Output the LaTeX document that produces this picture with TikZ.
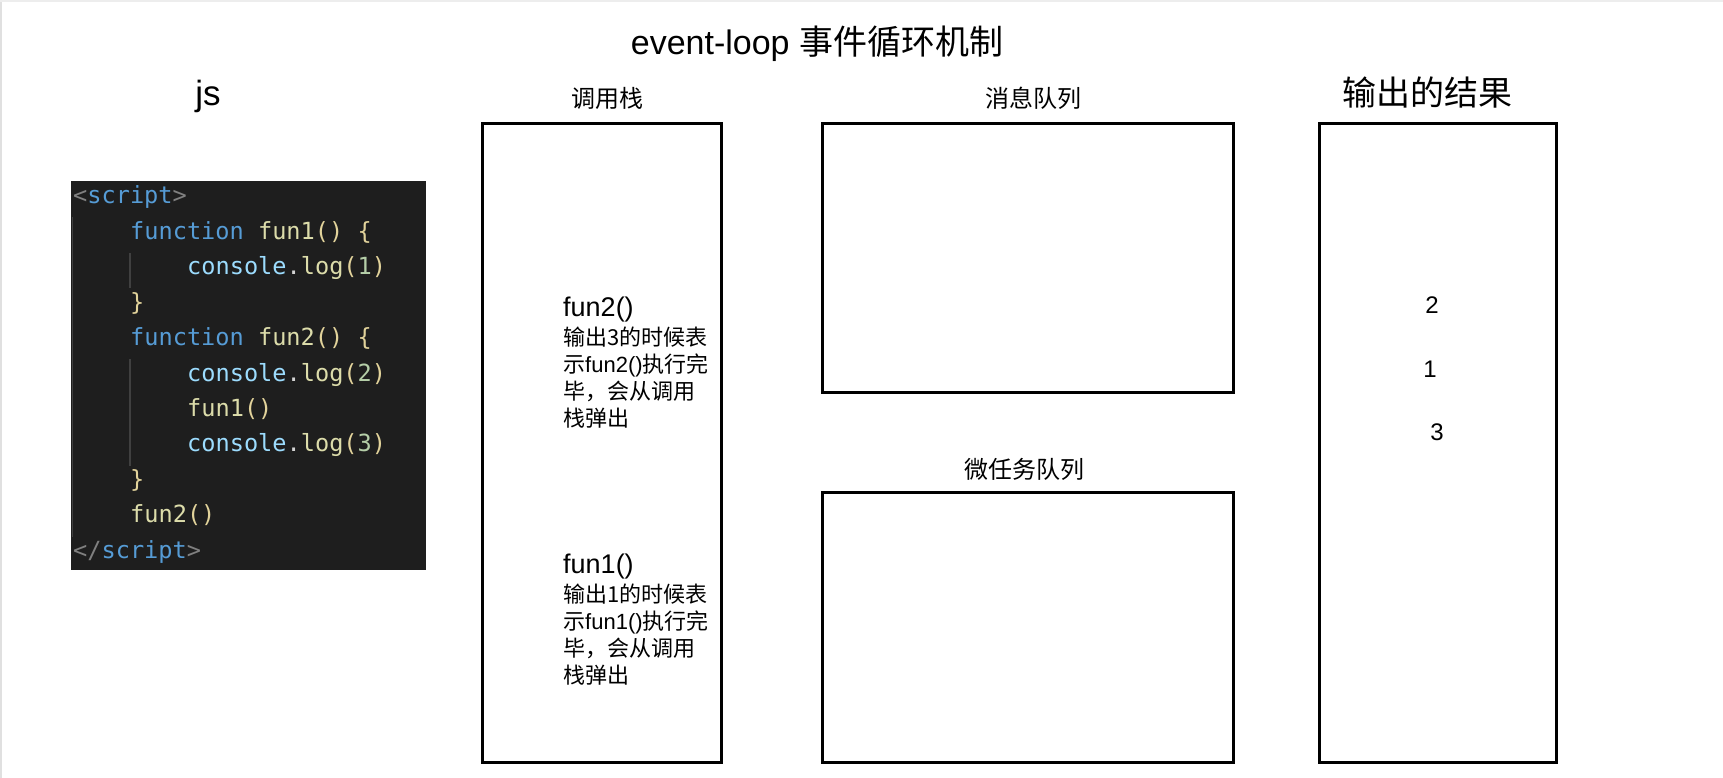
\documentclass[tikz,border=0pt]{standalone}
\usepackage{fontspec}
\setmainfont{Liberation Sans}
\setmonofont{DejaVu Sans Mono}
\newfontfamily\cjk{Noto Sans CJK SC}
\definecolor{codebg}{HTML}{1E1E1E}
\definecolor{guidegray}{HTML}{404040}
\definecolor{tagcol}{HTML}{808080}
\definecolor{kwcol}{HTML}{569CD6}
\definecolor{fncol}{HTML}{DCDCAA}
\definecolor{varcol}{HTML}{9CDCFE}
\definecolor{numcol}{HTML}{B5CEA8}
\definecolor{brcol}{HTML}{E2D39B}
\definecolor{plaincol}{HTML}{D4D4D4}
\newcommand\cdtag[1]{\textcolor{tagcol}{#1}}
\newcommand\cdkw[1]{\textcolor{kwcol}{#1}}
\newcommand\cdfn[1]{\textcolor{fncol}{#1}}
\newcommand\cdvar[1]{\textcolor{varcol}{#1}}
\newcommand\cdnum[1]{\textcolor{numcol}{#1}}
\newcommand\cdbr[1]{\textcolor{brcol}{#1}}
\newcommand\ltn[1]{{\rmfamily #1}}

\begin{document}
\begin{tikzpicture}[x=1pt,y=-1pt,
		box/.style={draw=black,line width=3pt,inner sep=0pt},
		head/.style={anchor=base,inner sep=0pt},
		code/.style={anchor=base west,inner sep=0pt,text=plaincol,font=\ttfamily\fontsize{23.6}{28}\selectfont},
		notehead/.style={anchor=base west,inner sep=0pt,font=\fontsize{27}{32}\selectfont},
		notetext/.style={anchor=base west,inner sep=0pt,font=\cjk\fontsize{22}{26}\selectfont},
		outnum/.style={anchor=base,inner sep=0pt,font=\fontsize{24}{28}\selectfont},
		guide/.style={draw=guidegray,line width=1.5pt}]
		\useasboundingbox (0,0) rectangle (1723,778);
		\fill [white] (0,0) rectangle (1723,778);
		\fill [black!12] (0,0) rectangle (2,778);
		\fill [black!7] (0,0) rectangle (1723,2);
		\node [head,font=\fontsize{34}{40}\selectfont] (title) at (817,55) {event-loop {\cjk 事件循环机制}};
		\node [head,font=\fontsize{35}{40}\selectfont] (js) at (208,106) {js};
		\node [head,font=\cjk\fontsize{24}{28}\selectfont] (stacklabel) at (607,108) {调用栈};
		\node [head,font=\cjk\fontsize{24}{28}\selectfont] (msglabel) at (1033,108) {消息队列};
		\node [head,font=\cjk\fontsize{24}{28}\selectfont] (microlabel) at (1024,478) {微任务队列};
		\node [head,font=\cjk\fontsize{34}{40}\selectfont] (outlabel) at (1427,106) {输出的结果};
		\node [box,minimum width=239,minimum height=638] (stack) at (601.5,443) {};
		\node [box,minimum width=411,minimum height=268] (msgq) at (1027.5,258) {};
		\node [box,minimum width=411,minimum height=270] (microq) at (1027.5,627) {};
		\node [box,minimum width=237,minimum height=638] (result) at (1437.5,443) {};
		\node [fill=codebg,inner sep=0pt,minimum width=355,minimum height=389] (codebox) at (248.5,375.5) {};
		\draw [guide] (72.5,217) -- (72.5,537);
		\draw [guide] (130,253) -- (130,288);
		\draw [guide] (130,359) -- (130,466);
		\node [code] (code0) at (73,204) {\cdtag{<}\cdkw{script}\cdtag{>}};
		\node [code] (code1) at (130,239.4) {\cdkw{function} \cdfn{fun1}\cdbr{() \{}};
		\node [code] (code2) at (187,274.8) {\cdvar{console}.\cdfn{log}\cdbr{(}\cdnum{1}\cdbr{)}};
		\node [code] (code3) at (130,310.2) {\cdbr{\}}};
		\node [code] (code4) at (130,345.6) {\cdkw{function} \cdfn{fun2}\cdbr{() \{}};
		\node [code] (code5) at (187,381) {\cdvar{console}.\cdfn{log}\cdbr{(}\cdnum{2}\cdbr{)}};
		\node [code] (code6) at (187,416.4) {\cdfn{fun1}\cdbr{()}};
		\node [code] (code7) at (187,451.8) {\cdvar{console}.\cdfn{log}\cdbr{(}\cdnum{3}\cdbr{)}};
		\node [code] (code8) at (130,487.2) {\cdbr{\}}};
		\node [code] (code9) at (130,522.6) {\cdfn{fun2}\cdbr{()}};
		\node [code] (code10) at (73,558) {\cdtag{</}\cdkw{script}\cdtag{>}};
		\node [notehead] (fun2head) at (563,316) {fun2()};
		\node [notetext] (fun2a) at (563,345) {输出3的时候表};
		\node [notetext] (fun2b) at (563,372) {示\ltn{fun2()}执行完};
		\node [notetext] (fun2c) at (563,399) {毕，会从调用};
		\node [notetext] (fun2d) at (563,426) {栈弹出};
		\node [notehead] (fun1head) at (563,573) {fun1()};
		\node [notetext] (fun1a) at (563,602) {输出1的时候表};
		\node [notetext] (fun1b) at (563,629) {示\ltn{fun1()}执行完};
		\node [notetext] (fun1c) at (563,656) {毕，会从调用};
		\node [notetext] (fun1d) at (563,683) {栈弹出};
		\node [outnum] (out2) at (1432,313) {2};
		\node [outnum] (out1) at (1430,377) {1};
		\node [outnum] (out3) at (1437,440) {3};
\end{tikzpicture}
\end{document}
